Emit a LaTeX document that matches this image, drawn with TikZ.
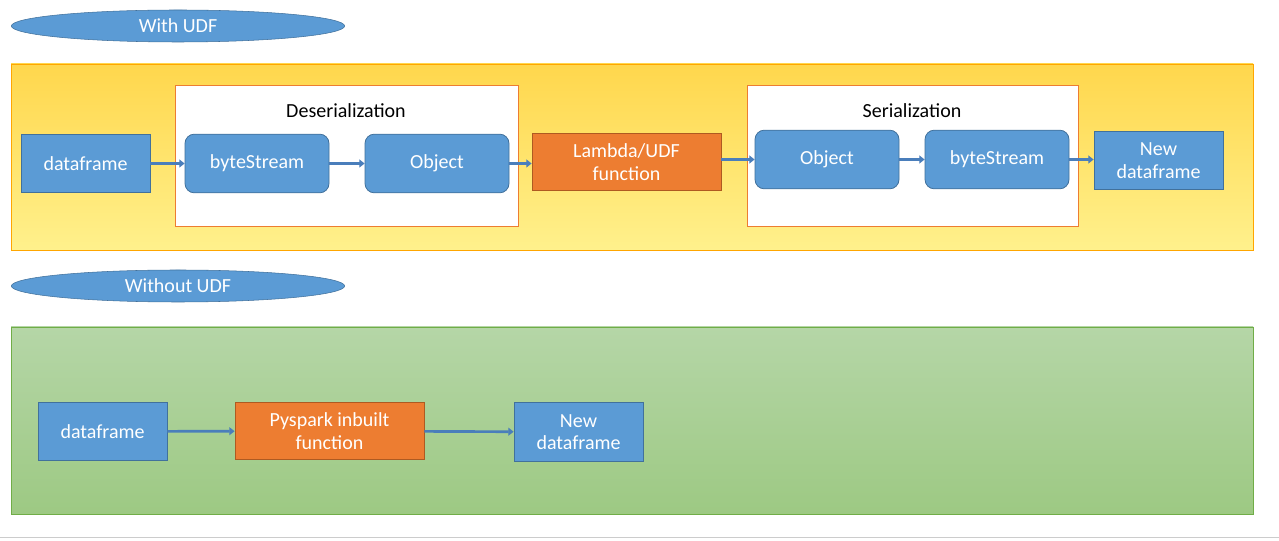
\documentclass[tikz,border=0pt]{standalone}
\usepackage{fontspec}
\setmainfont{Carlito}
\usetikzlibrary{arrows.meta,shapes.geometric}
\definecolor{bl}{HTML}{5B9BD5}
\definecolor{bld}{HTML}{41719C}
\definecolor{or}{HTML}{ED7D31}
\definecolor{ord}{HTML}{AE5A21}
\definecolor{arr}{HTML}{4A7EBB}
\begin{document}
\begin{tikzpicture}[x=0.75pt,y=-0.75pt,
  every node/.style={font=\fontsize{15}{17}\selectfont, align=center},
  sq/.style={draw=bld,fill=bl,text=white,line width=0.6pt,minimum width=96.75pt,minimum height=44pt,inner sep=1pt},
  rd/.style={sq,rounded corners=7pt,minimum width=108pt},
  ob/.style={draw=ord,fill=or,text=white,line width=0.6pt,minimum width=141.75pt,minimum height=43pt,inner sep=1pt},
  el/.style={ellipse,draw=bld,fill=bl,text=white,minimum width=250pt,minimum height=24pt,inner sep=0pt},
  wb/.style={draw=or,fill=white,line width=0.5pt},
  ar/.style={draw=arr,line width=2pt,-{Triangle[length=4pt,width=6pt]}}]
\useasboundingbox (0,0) rectangle (1279,541);
\fill[white] (0,0) rectangle (1279,541);
\draw[gray!40] (0,537) -- (1279,537);
% top panel
\shade[top color=orange!45!yellow!70,bottom color=orange!25!yellow!45] (11,64) rectangle (1253,250);
\draw[draw=orange!70!yellow,line width=0.6pt] (11,64) rectangle (1253,250);
\node[el] (e1) at (178,26) {With UDF};
\draw[wb] (175,85) rectangle (518,226);
\node (dt) at (346,111) {Deserialization};
\draw[wb] (747,85) rectangle (1078,226);
\node (st) at (912,111) {Serialization};
\node[sq] (d1) at (85.5,163.5) {dataframe};
\node[rd] (b1) at (257,163.5) {byteStream};
\node[rd] (o1) at (437,163.5) {Object};
\node[ob] (l1) at (626.5,162) {Lambda/UDF\\function};
\node[rd] (o2) at (827,159.5) {Object};
\node[rd] (b2) at (997,159.5) {byteStream};
\node[sq] (n1) at (1158.5,160.5) {New\\dataframe};
\draw[ar] (d1) -- (b1);
\draw[ar] (b1) -- (o1);
\draw[ar] (o1) -- (o1-|l1.west);
\draw[ar] (l1.east|-o2) -- (o2);
\draw[ar] (o2) -- (b2);
\draw[ar] (b2) -- (b2-|n1.west);
% bottom
\node[el] (e2) at (178,286) {Without UDF};
\shade[top color=green!50!black!15!white!85!green!40, bottom color=green!45!black!30!white!70!green!45] (11,327) rectangle (1253,514);
\shade[top color={rgb,255:red,181;green,214;blue,167},bottom color={rgb,255:red,157;green,201;blue,131}] (11,327) rectangle (1253,514);
\draw[draw={rgb,255:red,112;green,173;blue,71},line width=0.6pt] (11,327) rectangle (1253,514);
\node[sq] (d2) at (102.5,431.5) {dataframe};
\node[ob] (p2) at (329.5,431) {Pyspark inbuilt\\function};
\node[sq] (n2) at (578.5,432) {New\\dataframe};
\draw[ar] (d2) -- (p2);
\draw[ar] (p2) -- (n2);
\end{tikzpicture}
\end{document}
